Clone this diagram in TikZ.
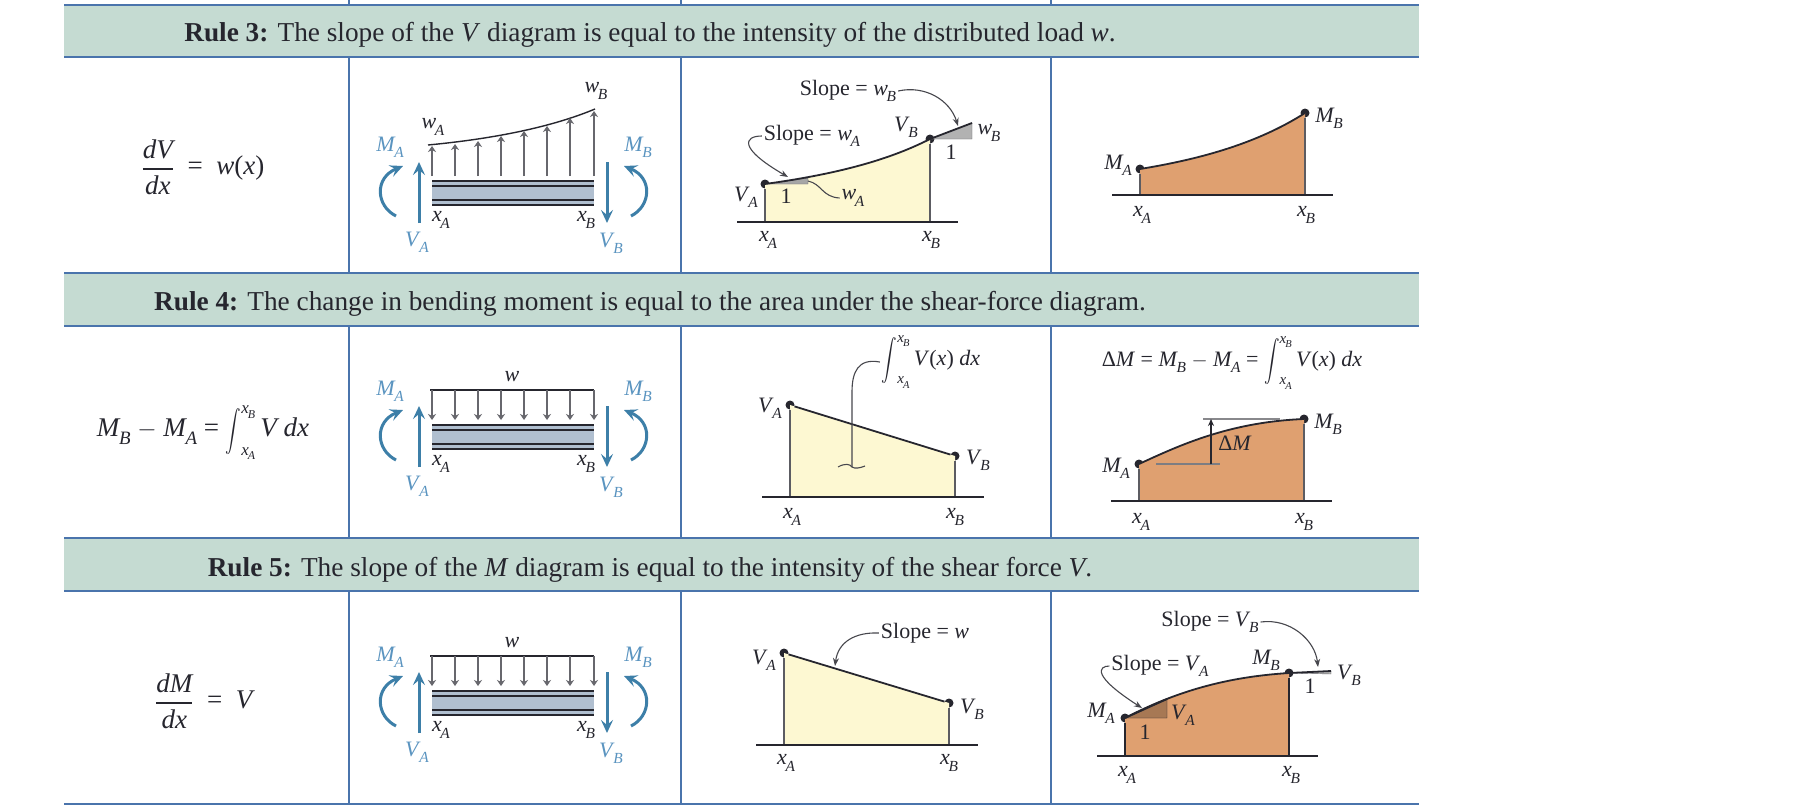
\documentclass[tikz,border=0pt]{standalone}
\usepackage{fontspec}
\usepackage{amsmath}
\usepackage{exscale}
\setmainfont{Liberation Serif}
\usetikzlibrary{arrows.meta}

\definecolor{rulecol}{HTML}{4A74AC}
\definecolor{bandcol}{HTML}{C5DBD2}
\definecolor{beamcol}{HTML}{B0BFD0}
\definecolor{blueline}{HTML}{3D7FA8}
\definecolor{bluetext}{HTML}{5A94C0}
\definecolor{shearcol}{HTML}{FDF8D2}
\definecolor{momentcol}{HTML}{DFA070}
\definecolor{inkcol}{HTML}{26262E}

\tikzset{
  every node/.style={inner sep=0pt,text=inkcol},
  headtext/.style={font=\fontsize{27.3}{32}\selectfont},
  formula/.style={font=\fontsize{27}{32}\selectfont},
  lbl/.style={font=\fontsize{22}{26}\selectfont,outer sep=2pt},
  bluelbl/.style={lbl,text=bluetext},
  force/.style={draw=blueline,line width=3pt,-{Stealth[length=13pt,width=12pt,inset=5pt]}},
  loadarrow/.style={draw=inkcol!70,line width=1.3pt,-{Stealth[length=6pt,width=8pt]}},
  leader/.style={draw=inkcol!85,line width=1.1pt},
  leadarrow/.style={leader,-{Stealth[length=8pt,width=6pt]}},
  axisline/.style={draw=inkcol,line width=1.8pt},
  curveline/.style={draw=inkcol,line width=1.8pt},
  edgeline/.style={draw=inkcol!75,line width=1.6pt},
  dotpt/.style={circle,fill=inkcol,minimum size=9pt}
}

% symbol with an italic subscript
\newcommand\lab[2]{\textit{#1}\kern-.06em\raisebox{-.28em}{\scalebox{.7}{\textit{#2}}}}
% narrow integral from x_A to x_B, #1 is the size of the limits
\newcommand\intab[1]{{\fontsize{21}{21}\selectfont$\displaystyle\mathop{\scalebox{.75}[1]{$\displaystyle\int$}}\nolimits_{\mbox{\fontsize{#1}{#1}\selectfont\lab{x}{A}}}^{\mbox{\fontsize{#1}{#1}\selectfont\lab{x}{B}}}$}}
% fraction with a heavy bar
\newcommand\hfrac[2]{$\genfrac{}{}{2pt}{0}{\textit{#1}}{\textit{#2}}$}

% beam with end forces, #1 top of the beam, #2 name prefix
\newcommand\freebeam[2]{
  \begin{scope}[shift={(0,#1)},name prefix=#2]
    \fill[beamcol] (432,0) rectangle (594,26);
    \foreach \s in {1.2,5.8,20.2,24.8}
      \draw[inkcol,line width=1.6pt] (432,\s) -- (594,\s);
    \node[bluelbl] (ma) at (390,-33) {\lab{M}{A}};
    \node[bluelbl] (mb) at (638,-33) {\lab{M}{B}};
    \node[bluelbl] (va) at (417,62) {\lab{V}{A}};
    \node[bluelbl] (vb) at (611,63) {\lab{V}{B}};
    \node[lbl] (xa) at (441,40) {\lab{x}{A}};
    \node[lbl] (xb) at (586,40) {\lab{x}{B}};
    \coordinate (sal) at (419,43);
    \coordinate (sau) at (419,-18);
    \coordinate (sbu) at (607,-18);
    \coordinate (sbl) at (607,43);
    \coordinate (mal) at (396,36);
    \coordinate (mau) at (403,-14);
    \coordinate (mbl) at (631,36);
    \coordinate (mbu) at (624,-14);
    \draw[force] (sal) -- (sau);
    \draw[force] (sbu) -- (sbl);
    \draw[force] (mal) .. controls (376,26) and (374,-2) .. (mau);
    \draw[force] (mbl) .. controls (651,26) and (653,-2) .. (mbu);
  \end{scope}
}

% uniform load on the beam, #1 top of the beam, #2 name prefix
\newcommand\download[2]{
  \begin{scope}[shift={(0,#1)},name prefix=#2]
    \node[lbl] (w) at (512,-47) {\textit{w}};
    \draw[inkcol,line width=1.2pt] (430,-34) -- (594,-34);
    \foreach \x in {432,455,478,501,524,547,570,594}
      \draw[loadarrow] (\x,-34) -- (\x,-4);
  \end{scope}
}

\begin{document}
\begin{tikzpicture}[x=1pt,y=-1pt]
  \useasboundingbox (0,0) rectangle (1802,806);
  \fill[white] (0,0) rectangle (1802,806);

  % table
  \foreach \x in {349,681,1051}
    \draw[rulecol,line width=2pt] (\x,0) -- (\x,804);
  \foreach \t/\b in {5/57,273/326,538/591} {
    \fill[bandcol] (64,\t) rectangle (1419,\b);
    \draw[rulecol,line width=2pt] (64,\t) -- (1419,\t);
    \draw[rulecol,line width=2pt] (64,\b) -- (1419,\b);
  }
  \draw[rulecol,line width=2pt] (64,804) -- (1419,804);

  \node[headtext] (rule3) at (650,35) {\textbf{Rule 3:} The slope of the \textit{V} diagram is equal to the intensity of the distributed load \textit{w}.};
  \node[headtext] (rule4) at (650,304) {\textbf{Rule 4:} The change in bending moment is equal to the area under the shear-force diagram.};
  \node[headtext] (rule5) at (650,570) {\textbf{Rule 5:} The slope of the \textit{M} diagram is equal to the intensity of the shear force \textit{V}.};

  % left column
  \node[formula] (eq3) at (203,167) {\hfrac{dV}{dx}\enspace =\enspace \textit{w}(\textit{x})};
  \node[formula] (eq4) at (203,433) {\lab{M}{B} $-$ \lab{M}{A} = \intab{17}\,\textit{V dx}};
  \node[formula] (eq5) at (205,701) {\hfrac{dM}{dx}\enspace =\enspace \textit{V}};

  % loading column
  \freebeam{180}{a-}
  \freebeam{424}{b-}
  \freebeam{690}{c-}
  \download{424}{b-}
  \download{690}{c-}
  \node[lbl] (wa) at (433,127) {\lab{w}{A}};
  \node[lbl] (wb) at (596,91) {\lab{w}{B}};
  \draw[inkcol,line width=1.4pt] (428,145) .. controls (470,141) and (540,132) .. (595,109);
  \foreach \x/\y in {432/146,455/144,478/141,501/136,524/131,547/126,570/118,594/111}
    \draw[loadarrow] (\x,176) -- (\x,\y);

  % shear column, rule 3
  \node[dotpt] (v3a) at (765,184) {};
  \node[dotpt] (v3b) at (930,139) {};
  \coordinate (v3ax) at (765,222);
  \coordinate (v3bx) at (930,222);
  \fill[shearcol] (v3a.center) .. controls (830,175) and (885,162) .. (v3b.center) -- (v3bx) -- (v3ax) -- cycle;
  \fill[gray!70,draw=inkcol!70] (v3a.center) -- (808,178) -- (808,184) -- cycle;
  \fill[gray!60,draw=inkcol!70] (v3b.center) -- (972,123) -- (972,139) -- cycle;
  \draw[curveline] (v3a.center) .. controls (830,175) and (885,162) .. (v3b.center);
  \draw[curveline] (v3b.center) -- (972,123);
  \draw[edgeline] (v3a) -- (v3ax);
  \draw[edgeline] (v3b) -- (v3bx);
  \draw[axisline] (737,222) -- (958,222);
  \node[lbl] (slope3b) at (848,91) {Slope = \lab{w}{B}};
  \node[lbl] (slope3a) at (812,136) {Slope = \lab{w}{A}};
  \node[lbl] (lv3b) at (906,127) {\lab{V}{B}};
  \node[lbl] (lw3b) at (989,133) {\lab{w}{B}};
  \node[lbl] (one3b) at (951,152) {1};
  \node[lbl] (lv3a) at (746,197) {\lab{V}{A}};
  \node[lbl] (one3a) at (786,196) {1};
  \node[lbl] (lw3a) at (853,198) {\lab{w}{A}};
  \node[lbl] (lx3a) at (768,240) {\lab{x}{A}};
  \node[lbl] (lx3b) at (931,240) {\lab{x}{B}};
  \coordinate (tip3b) at (958,126);
  \coordinate (tip3a) at (788,177);
  \coordinate (tan3a) at (808,181);
  \draw[leadarrow] (slope3b.east) .. controls (925,85) and (950,100) .. (tip3b);
  \draw[leadarrow] (slope3a.west) .. controls (744,136) and (738,148) .. (tip3a);
  \draw[leader] (tan3a) .. controls (822,184) and (822,197) .. (lw3a.west);

  % moment column, rule 3
  \node[dotpt] (m3a) at (1140,169) {};
  \node[dotpt] (m3b) at (1305,113) {};
  \coordinate (m3ax) at (1140,195);
  \coordinate (m3bx) at (1305,195);
  \fill[momentcol] (m3a.center) .. controls (1195,160) and (1255,145) .. (m3b.center) -- (m3bx) -- (m3ax) -- cycle;
  \draw[curveline] (m3a.center) .. controls (1195,160) and (1255,145) .. (m3b.center);
  \draw[edgeline] (m3a) -- (m3ax);
  \draw[edgeline] (m3b) -- (m3bx);
  \draw[axisline] (1112,195) -- (1333,195);
  \node[lbl] (lm3a) at (1118,165) {\lab{M}{A}};
  \node[lbl] (lm3b) at (1329,118) {\lab{M}{B}};
  \node[lbl] (lx3c) at (1142,215) {\lab{x}{A}};
  \node[lbl] (lx3d) at (1306,215) {\lab{x}{B}};

  % shear column, rule 4
  \node[dotpt] (v4a) at (790,405) {};
  \node[dotpt] (v4b) at (955,456) {};
  \coordinate (v4ax) at (790,497);
  \coordinate (v4bx) at (955,497);
  \fill[shearcol] (v4a.center) -- (v4b.center) -- (v4bx) -- (v4ax) -- cycle;
  \draw[curveline] (v4a) -- (v4b);
  \draw[edgeline] (v4a) -- (v4ax);
  \draw[edgeline] (v4b) -- (v4bx);
  \draw[axisline] (762,497) -- (984,497);
  \node[lbl] (lv4a) at (770,408) {\lab{V}{A}};
  \node[lbl] (lv4b) at (978,460) {\lab{V}{B}};
  \node[lbl] (lx4a) at (792,517) {\lab{x}{A}};
  \node[lbl] (lx4b) at (955,517) {\lab{x}{B}};
  \node[lbl] (area4) at (931,362) {\intab{15}\,\textit{V}(\textit{x}) \textit{dx}};
  \coordinate (foot4) at (852,467);
  \draw[leader] (area4.west) .. controls (858,358) and (852,372) .. (852,392) -- (foot4);
  \draw[leader] (838,467) .. controls (845,463) and (850,464) .. (foot4) .. controls (855,469) and (860,468) .. (865,466);

  % moment column, rule 4
  \node[lbl] (dm4) at (1232,363) {Δ\textit{M} = \lab{M}{B} $-$ \lab{M}{A} = \intab{15}\,\textit{V}(\textit{x}) \textit{dx}};
  \node[dotpt] (m4a) at (1139,464) {};
  \node[dotpt] (m4b) at (1304,419) {};
  \coordinate (m4ax) at (1139,501);
  \coordinate (m4bx) at (1304,501);
  \fill[momentcol] (m4a.center) .. controls (1180,445) and (1230,422) .. (m4b.center) -- (m4bx) -- (m4ax) -- cycle;
  \draw[curveline] (m4a.center) .. controls (1180,445) and (1230,422) .. (m4b.center);
  \draw[edgeline] (m4a) -- (m4ax);
  \draw[edgeline] (m4b) -- (m4bx);
  \draw[axisline] (1111,501) -- (1332,501);
  \draw[inkcol!55,line width=1.2pt] (1203,419) -- (1280,419);
  \draw[inkcol!60,line width=1.6pt] (1156,464) -- (1220,464);
  \coordinate (rise4a) at (1211,464);
  \coordinate (rise4b) at (1211,419);
  \draw[inkcol,line width=1.2pt,-{Stealth[length=7pt,width=6pt]}] (rise4a) -- (rise4b);
  \node[lbl] (lrise4) at (1235,443) {Δ\textit{M}};
  \node[lbl] (lm4a) at (1116,468) {\lab{M}{A}};
  \node[lbl] (lm4b) at (1328,424) {\lab{M}{B}};
  \node[lbl] (lx4c) at (1141,522) {\lab{x}{A}};
  \node[lbl] (lx4d) at (1304,522) {\lab{x}{B}};

  % shear column, rule 5
  \node[dotpt] (v5a) at (784,653) {};
  \node[dotpt] (v5b) at (949,703) {};
  \coordinate (v5ax) at (784,745);
  \coordinate (v5bx) at (949,745);
  \fill[shearcol] (v5a.center) -- (v5b.center) -- (v5bx) -- (v5ax) -- cycle;
  \draw[curveline] (v5a) -- (v5b);
  \draw[edgeline] (v5a) -- (v5ax);
  \draw[edgeline] (v5b) -- (v5bx);
  \draw[axisline] (756,745) -- (978,745);
  \node[lbl] (lv5a) at (764,660) {\lab{V}{A}};
  \node[lbl] (lv5b) at (972,709) {\lab{V}{B}};
  \node[lbl] (lx5a) at (786,763) {\lab{x}{A}};
  \node[lbl] (lx5b) at (949,763) {\lab{x}{B}};
  \node[lbl] (slope5) at (925,633) {Slope = \textit{w}};
  \coordinate (tip5) at (835,666);
  \draw[leadarrow] (slope5.west) .. controls (855,632) and (838,642) .. (tip5);

  % moment column, rule 5
  \node[dotpt] (m5a) at (1125,718) {};
  \node[dotpt] (m5b) at (1289,673) {};
  \coordinate (m5ax) at (1125,756);
  \coordinate (m5bx) at (1289,756);
  \fill[momentcol] (m5a.center) .. controls (1175,692) and (1225,677) .. (m5b.center) -- (m5bx) -- (m5ax) -- cycle;
  \fill[momentcol!75!black,draw=inkcol] (m5a.center) -- (1167,699) -- (1167,718) -- cycle;
  \fill[gray!60,draw=inkcol!70] (m5b.center) -- (1331,671) -- (1331,674) -- cycle;
  \draw[curveline] (m5a.center) .. controls (1175,692) and (1225,677) .. (m5b.center);
  \draw[curveline] (m5a.center) -- (1167,699);
  \draw[curveline] (m5b.center) -- (1331,671);
  \draw[curveline] (m5a) -- (m5ax);
  \draw[curveline] (m5b) -- (m5bx);
  \draw[axisline] (1097,756) -- (1318,756);
  \node[lbl] (slope5b) at (1210,622) {Slope = \lab{V}{B}};
  \node[lbl] (slope5a) at (1160,666) {Slope = \lab{V}{A}};
  \node[lbl] (lm5b) at (1266,660) {\lab{M}{B}};
  \node[lbl] (lv5d) at (1349,675) {\lab{V}{B}};
  \node[lbl] (one5b) at (1310,686) {1};
  \node[lbl] (lm5a) at (1101,713) {\lab{M}{A}};
  \node[lbl] (lv5c) at (1183,715) {\lab{V}{A}};
  \node[lbl] (one5a) at (1145,732) {1};
  \node[lbl] (lx5c) at (1127,775) {\lab{x}{A}};
  \node[lbl] (lx5d) at (1291,775) {\lab{x}{B}};
  \coordinate (tip5b) at (1318,667);
  \coordinate (tip5a) at (1142,708);
  \draw[leadarrow] (slope5b.east) .. controls (1290,618) and (1315,640) .. (tip5b);
  \draw[leadarrow] (slope5a.west) .. controls (1098,666) and (1092,676) .. (tip5a);
\end{tikzpicture}
\end{document}
